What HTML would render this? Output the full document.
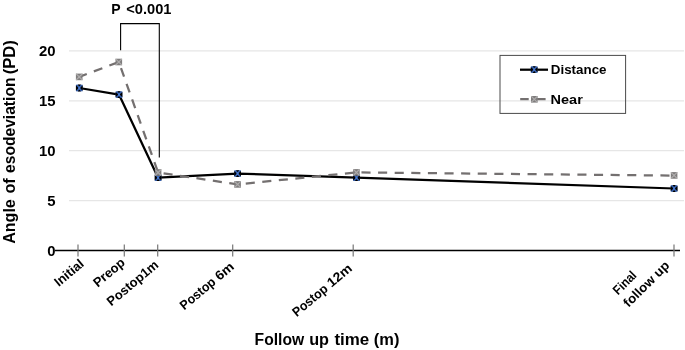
<!DOCTYPE html>
<html>
<head>
<meta charset="utf-8">
<style>
html,body{margin:0;padding:0;background:#fff;}
body{width:685px;height:350px;overflow:hidden;}
svg{display:block;}
text{font-family:"Liberation Sans",Arial,sans-serif;font-weight:bold;fill:#000;}
</style>
</head>
<body>
<svg width="685" height="350" viewBox="0 0 685 350">
<defs>
  <clipPath id="mc"><rect x="-3.3" y="-3.3" width="6.6" height="6.6"/></clipPath>
  <g id="md">
    <rect x="-3.3" y="-3.3" width="6.6" height="6.6" fill="#345fae"/>
    <path d="M-3.4,-2.7 L-0.6,0 L-3.4,2.7 Z M3.4,-2.7 L0.6,0 L3.4,2.7 Z M-1.7,-3.4 L0,-1.5 L1.7,-3.4 Z M-1.7,3.4 L0,1.5 L1.7,3.4 Z" fill="#000"/>
    <rect x="-1" y="-1.3" width="2" height="2.6" fill="#4677cc"/>
  </g>
  <g id="mn">
    <rect x="-3.3" y="-3.3" width="6.6" height="6.6" fill="#7f7d7d"/>
    <path d="M-3.6,-3.6 L3.6,3.6 M-3.6,3.6 L3.6,-3.6" stroke="#aeacac" stroke-width="1.2" clip-path="url(#mc)"/>
  </g>
</defs>
<!-- gridlines -->
<g stroke="#e6e6e6" stroke-width="1.3">
  <line x1="69" y1="50.8" x2="684" y2="50.8"/>
  <line x1="69" y1="100.8" x2="684" y2="100.8"/>
  <line x1="69" y1="150.7" x2="684" y2="150.7"/>
  <line x1="69" y1="200.7" x2="684" y2="200.7"/>
</g>
<!-- x axis -->
<line x1="55" y1="250.5" x2="680" y2="250.5" stroke="#000" stroke-width="1.5"/>
<g stroke="#767676" stroke-width="1.2">
  <line x1="78" y1="244.5" x2="78" y2="256.5"/>
  <line x1="124.3" y1="244.5" x2="124.3" y2="256.5"/>
  <line x1="157.7" y1="244.5" x2="157.7" y2="256.5"/>
  <line x1="232.7" y1="244.5" x2="232.7" y2="256.5"/>
  <line x1="353.2" y1="244.5" x2="353.2" y2="256.5"/>
  <line x1="674" y1="244.5" x2="674" y2="256.5"/>
</g>
<!-- y tick labels -->
<g font-size="14.9" text-anchor="end">
  <text x="55.6" y="255.6">0</text>
  <text x="55.6" y="205.6">5</text>
  <text x="55.6" y="155.6">10</text>
  <text x="55.6" y="105.7">15</text>
  <text x="55.6" y="55.7">20</text>
</g>
<!-- y title -->
<g font-size="16">
  <text transform="translate(15,243.8) rotate(-90)" textLength="44.6" lengthAdjust="spacingAndGlyphs">Angle</text>
  <text transform="translate(15,193.6) rotate(-90)" textLength="15.4" lengthAdjust="spacingAndGlyphs">of</text>
  <text transform="translate(15,173) rotate(-90)" textLength="95.5" lengthAdjust="spacingAndGlyphs">esodeviation</text>
  <text transform="translate(15,74.3) rotate(-90)" textLength="34.2" lengthAdjust="spacingAndGlyphs">(PD)</text>
</g>
<!-- x title -->
<g font-size="16">
  <text x="254.6" y="344.7" textLength="49.5" lengthAdjust="spacingAndGlyphs">Follow</text>
  <text x="309.2" y="344.7" textLength="19.8" lengthAdjust="spacingAndGlyphs">up</text>
  <text x="334.4" y="344.7" textLength="34.8" lengthAdjust="spacingAndGlyphs">time</text>
  <text x="373.8" y="344.7" textLength="25.6" lengthAdjust="spacingAndGlyphs">(m)</text>
</g>
<!-- x labels -->
<g font-size="13" text-anchor="end">
  <text transform="translate(84.75,265.25) rotate(-40)">Initial</text>
  <text transform="translate(125.9,264) rotate(-40)">Preop</text>
  <text transform="translate(159.4,266.2) rotate(-40)">Postop1m</text>
  <text transform="translate(234.85,268.05) rotate(-40)" textLength="20.1" lengthAdjust="spacingAndGlyphs">6m</text>
  <text transform="translate(234.85,268.05) rotate(-40)" x="-23.7" textLength="42.3" lengthAdjust="spacingAndGlyphs">Postop</text>
  <text transform="translate(353.05,269.85) rotate(-40)" textLength="28" lengthAdjust="spacingAndGlyphs">12m</text>
  <text transform="translate(353.05,269.85) rotate(-40)" x="-31.6" textLength="42" lengthAdjust="spacingAndGlyphs">Postop</text>
  <text transform="translate(637.4,276.15) rotate(-45)" textLength="27.3" lengthAdjust="spacingAndGlyphs">Final</text>
  <text transform="translate(670.3,266.3) rotate(-45)" textLength="59" lengthAdjust="spacingAndGlyphs">follow up</text>
</g>
<!-- series Distance -->
<polyline fill="none" stroke="#000" stroke-width="2.25" stroke-linejoin="round"
  points="79.3,88 119,94.6 158.1,177.7 237.6,173.6 356.5,177.7 674.1,188.5"/>
<!-- series Near -->
<polyline fill="none" stroke="#747070" stroke-width="2.25" stroke-dasharray="9.1 7.51" stroke-dashoffset="0.98"
  points="79.2,76.9 118.8,62 158.1,172.5 237.6,184.4 356.4,172.4 674.1,175.6"/>
<use href="#md" x="79.3" y="88"/>
<use href="#md" x="119" y="94.6"/>
<use href="#md" x="158.1" y="177.7"/>
<use href="#md" x="237.6" y="173.6"/>
<use href="#md" x="356.5" y="177.7"/>
<use href="#md" x="674.1" y="188.5"/>
<use href="#mn" x="79.2" y="76.9"/>
<use href="#mn" x="118.8" y="62"/>
<use href="#mn" x="158.1" y="172.5"/>
<use href="#mn" x="237.6" y="184.4"/>
<use href="#mn" x="356.4" y="172.4"/>
<use href="#mn" x="674.1" y="175.4"/>
<!-- bracket -->
<polyline fill="none" stroke="#000" stroke-width="1.1" points="120.6,50.2 120.6,23.6 159.3,23.6 159.3,157.5"/>
<text font-size="14" x="111.3" y="13.8">P</text>
<text font-size="14" x="126.3" y="13.8" textLength="45.2" lengthAdjust="spacingAndGlyphs">&lt;0.001</text>
<!-- legend -->
<rect x="500" y="55.4" width="125.6" height="58" fill="none" stroke="#4a4a4a" stroke-width="1"/>
<line x1="520" y1="69.7" x2="548" y2="69.7" stroke="#000" stroke-width="2.25"/>
<use href="#md" x="534.2" y="69.6"/>
<line x1="520.2" y1="99.1" x2="545.6" y2="99.1" stroke="#747070" stroke-width="2.25" stroke-dasharray="8.5 8.4"/>
<use href="#mn" x="534.3" y="99.3"/>
<g font-size="13.5">
  <text x="550.8" y="74.3" textLength="55.7" lengthAdjust="spacingAndGlyphs">Distance</text>
  <text x="550.6" y="104" textLength="32.2" lengthAdjust="spacingAndGlyphs">Near</text>
</g>
</svg>
</body>
</html>
